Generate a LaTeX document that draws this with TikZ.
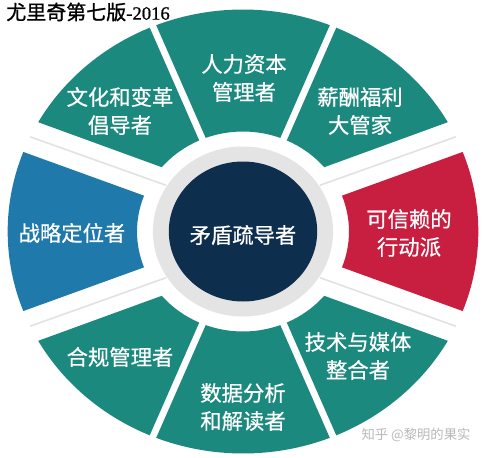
\documentclass[tikz,border=0pt]{standalone}
\usepackage{fontspec}
\newfontfamily\cjk{Noto Sans CJK SC}[FakeBold=0.6]
\newfontfamily\cjktitle{Noto Sans CJK SC}[FakeBold=1]
\newfontfamily\cjkmark{Noto Sans CJK SC}
\newfontfamily\serifdigits{Liberation Serif}[FakeBold=0.8]
\definecolor{tealseg}{RGB}{28,137,126}
\definecolor{blueseg}{RGB}{31,121,170}
\definecolor{redseg}{RGB}{200,30,64}
\definecolor{navy}{RGB}{14,46,78}
\definecolor{ringgray}{RGB}{228,228,228}
\definecolor{faint}{RGB}{226,226,226}
\definecolor{wmgray}{RGB}{185,185,185}
\newcommand\Rout{222}
\newcommand\Rin{100}
% colour, outer start, outer end, inner start (= near outer end), inner end
\newcommand\wheelseg[5]{%
  \fill[#1] (#2:\Rout) arc[start angle=#2, end angle=#3, radius=\Rout]
    -- (#4:\Rin) arc[start angle=#4, end angle=#5, radius=\Rin] -- cycle;}
\begin{document}
\begin{tikzpicture}[x=0.75pt,y=-0.75pt,
  lbl/.style={text=white, font=\cjk\fontsize{16}{21}\selectfont, align=center, inner sep=0pt},
  gapline/.style={faint, line width=1.2pt}]
\useasboundingbox (0,0) rectangle (487,458);
\fill[white] (0,0) rectangle (487,458);
\begin{scope}[shift={(243,231.5)}, xscale=1.06, yscale=-1]
  % teal segments
  \wheelseg{tealseg}{68.35}{111.65}{110.6}{69.4}
  \wheelseg{tealseg}{113.35}{150.5}{140}{114.4}
  \wheelseg{tealseg}{209.5}{246.65}{245.6}{220}
  \wheelseg{tealseg}{248.35}{291.65}{290.6}{249.4}
  \wheelseg{tealseg}{293.35}{330.5}{320}{294.4}
  \wheelseg{tealseg}{29.5}{66.65}{65.6}{40}
  % highlighted segments
  \wheelseg{blueseg}{159}{201}{201}{159}
  \wheelseg{redseg}{-21}{21}{21}{-21}
  % faint dividers in the wide gaps
  \draw[gapline] (154.75:222) -- (147.5:86);
  \draw[gapline] (205.25:222) -- (212.5:86);
  \draw[gapline] (25.25:222) -- (32.5:86);
  \draw[gapline] (334.75:222) -- (327.5:86);
  % hub
  \fill[ringgray] (0,0) circle[radius=85];
  \fill[navy] (0,0) circle[radius=70];
\end{scope}
\node[lbl] (hub) at (243,235) {矛盾疏导者};
\node[lbl] (hr) at (244,78) {人力资本\\管理者};
\node[lbl] (pay) at (360,111) {薪酬福利\\大管家};
\node[lbl] (act) at (409,233) {可信赖的\\行动派};
\node[lbl] (tech) at (358,356) {技术与媒体\\整合者};
\node[lbl] (data) at (243,407) {数据分析\\和解读者};
\node[lbl] (comp) at (120,357) {合规管理者};
\node[lbl] (strat) at (72,233) {战略定位者};
\node[lbl] (cult) at (120,111) {文化和变革\\倡导者};
\node[anchor=west, inner sep=0pt, font=\cjktitle\fontsize{15}{18}\selectfont] (title) at (6,12)
  {尤里奇第七版{\serifdigits\fontsize{14}{18}\selectfont -2016}};
\node[inner sep=0pt, text=wmgray, font=\cjkmark\fontsize{10}{12}\selectfont] (mark) at (416,435) {知乎 @黎明的果实};
\end{tikzpicture}
\end{document}
